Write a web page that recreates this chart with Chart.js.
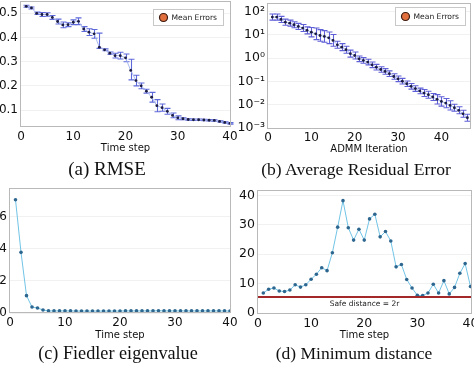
<!DOCTYPE html>
<html><head><meta charset="utf-8">
<script src="https://cdn.jsdelivr.net/npm/chart.js@4.4.0/dist/chart.umd.min.js"></script>
<style>
html,body{margin:0;padding:0;background:#fff;width:474px;height:372px;overflow:hidden;position:relative}
canvas{position:absolute}
.cap{position:absolute;font-family:"Liberation Serif","Times New Roman",serif;font-size:17.8px;color:#111;white-space:nowrap;transform:translate(-50%,-50%)}
</style></head><body>
<canvas id="cA"></canvas>
<canvas id="cB"></canvas>
<canvas id="cC"></canvas>
<canvas id="cD"></canvas>
<div class="cap" style="left:107px;top:169px;font-size:19px">(a) RMSE</div>
<div class="cap" style="left:356px;top:169px;font-size:17.6px">(b) Average Residual Error</div>
<div class="cap" style="left:118px;top:353px;font-size:18.2px">(c) Fiedler eigenvalue</div>
<div class="cap" style="left:354px;top:353px;font-size:17.5px">(d) Minimum distance</div>
<script>
// ---------- data ----------
const rmseSteps = [1,2,3,4,5,6,7,8,9,10,11,12,13,14,15,16,17,18,19,20,21,22,23,24,25,26,27,28,29,30,31,32,33,34,35,36,37,38,39,40];
const rmseMean = [0.529,0.522,0.500,0.495,0.495,0.483,0.466,0.452,0.453,0.463,0.467,0.435,0.422,0.415,0.360,0.349,0.335,0.325,0.325,0.316,0.264,0.222,0.200,0.178,0.153,0.118,0.110,0.095,0.078,0.068,0.064,0.061,0.060,0.060,0.059,0.058,0.057,0.053,0.049,0.045];
const rmseLow  = [0.525,0.518,0.495,0.487,0.488,0.475,0.456,0.440,0.445,0.453,0.453,0.425,0.408,0.397,0.355,0.345,0.330,0.315,0.311,0.300,0.225,0.200,0.188,0.170,0.133,0.093,0.095,0.083,0.068,0.060,0.060,0.058,0.057,0.057,0.056,0.055,0.054,0.050,0.046,0.042];
const rmseHigh = [0.533,0.526,0.505,0.503,0.502,0.491,0.476,0.464,0.461,0.473,0.481,0.445,0.436,0.433,0.418,0.353,0.340,0.335,0.339,0.332,0.310,0.244,0.212,0.186,0.173,0.143,0.125,0.107,0.088,0.076,0.068,0.064,0.063,0.063,0.062,0.061,0.060,0.056,0.052,0.048];

const admmIter = [1,2,3,4,5,6,7,8,9,10,11,12,13,14,15,16,17,18,19,20,21,22,23,24,25,26,27,28,29,30,31,32,33,34,35,36,37,38,39,40,41,42,43,44,45,46];
const residualMean = [57.5,57.5,45.7,34.7,31.6,26.9,22.9,19.5,15.5,12.9,11.0,9.33,8.51,7.41,5.75,3.72,2.95,2.29,1.55,1.29,0.933,0.794,0.676,0.513,0.407,0.324,0.269,0.214,0.162,0.129,0.102,0.0794,0.0617,0.0490,0.0389,0.0316,0.0269,0.0214,0.0170,0.0138,0.0117,0.00933,0.00741,0.00575,0.00407,0.00275];
const residualErrDecades = [0.13,0.13,0.13,0.13,0.13,0.13,0.13,0.15,0.15,0.2,0.25,0.25,0.25,0.25,0.25,0.15,0.15,0.15,0.15,0.15,0.12,0.12,0.12,0.12,0.12,0.12,0.12,0.12,0.12,0.12,0.12,0.12,0.12,0.12,0.12,0.15,0.15,0.15,0.2,0.2,0.2,0.2,0.15,0.15,0.15,0.15];

const fiedlerSteps = [1,2,3,4,5,6,7,8,9,10,11,12,13,14,15,16,17,18,19,20,21,22,23,24,25,26,27,28,29,30,31,32,33,34,35,36,37,38,39,40];
const fiedlerValues = [7.04,3.77,1.08,0.37,0.31,0.19,0.13,0.13,0.13,0.13,0.13,0.12,0.12,0.12,0.12,0.12,0.12,0.12,0.12,0.12,0.13,0.13,0.13,0.13,0.13,0.13,0.14,0.13,0.13,0.13,0.13,0.13,0.13,0.13,0.13,0.13,0.13,0.13,0.13,0.12];

const distSteps = [1,2,3,4,5,6,7,8,9,10,11,12,13,14,15,16,17,18,19,20,21,22,23,24,25,26,27,28,29,30,31,32,33,34,35,36,37,38,39,40];
const minDistance = [6.8,8.1,8.5,7.5,7.3,7.8,9.6,8.8,9.6,11.5,13.2,15.4,14.4,20.5,29.2,38.2,29.0,24.8,28.5,24.8,32.0,33.6,25.9,27.7,24.5,15.7,16.5,11.4,8.5,6.0,5.9,6.8,9.8,6.8,11.0,6.5,8.7,13.5,16.8,9.0];
const safeDistance = 5.4;
const safeLabel = 'Safe distance = 2r';

const xTicks40 = [0,10,20,30,40];
const xTickLabels40 = ['0','10','20','30','40'];
const rmseYTicks = [0.1,0.2,0.3,0.4,0.5];
const rmseYLabels = ['0.1','0.2','0.3','0.4','0.5'];
const residualYTicks = [0.001,0.01,0.1,1,10,100];
const residualYLabels = ['10\u207B\u00B3','10\u207B\u00B2','10\u207B\u00B9','10\u2070','10\u00B9','10\u00B2'];
const fiedlerYTicks = [0,2,4,6];
const fiedlerYLabels = ['0','2','4','6'];
const distYTicks = [0,10,20,30,40];
const distYLabels = ['0','10','20','30','40'];
const legendLabel = 'Mean Errors';

// ---------- plugins ----------
const framePlugin = {
  id:'frame',
  afterDatasetsDraw(chart){
    const a = chart.chartArea, c = chart.ctx;
    c.save(); c.strokeStyle = '#b9b9b9'; c.lineWidth = 1;
    c.strokeRect(Math.round(a.left)-0.5, Math.round(a.top)+0.5, Math.round(a.right-a.left)+1, Math.round(a.bottom-a.top)-1);
    c.restore();
  }
};
const errorBarPlugin = {
  id:'errbars',
  beforeDatasetsDraw(chart, args, opts){
    if(!opts || !opts.low) return;
    const meta = chart.getDatasetMeta(0), ys = chart.scales.y, c = chart.ctx;
    c.save(); c.strokeStyle = opts.color; c.lineWidth = 1.1;
    meta.data.forEach((pt,i)=>{
      const y1 = ys.getPixelForValue(opts.low[i]), y2 = ys.getPixelForValue(opts.high[i]);
      const x = Math.round(pt.x)+0.5, w = opts.cap;
      c.beginPath();
      c.moveTo(x,y1); c.lineTo(x,y2);
      c.moveTo(x-w,y1); c.lineTo(x+w,y1);
      c.moveTo(x-w,y2); c.lineTo(x+w,y2);
      c.stroke();
    });
    c.restore();
  }
};
const boxLegendPlugin = {
  id:'boxlegend',
  afterDraw(chart, args, opts){
    if(!opts || !opts.text) return;
    const a = chart.chartArea, c = chart.ctx;
    const w = opts.w, h = opts.h;
    const x = Math.round(a.right - opts.right - w)+0.5, y = Math.round(a.top + opts.top)+0.5;
    c.save();
    c.fillStyle = '#fff'; c.strokeStyle = '#c8c8c8'; c.lineWidth = 1;
    c.fillRect(x,y,w,h); c.strokeRect(x,y,w,h);
    c.beginPath(); c.arc(x+10, y+h/2, 4, 0, Math.PI*2);
    c.fillStyle = '#e2703f'; c.fill(); c.strokeStyle = '#3a1a10'; c.lineWidth = 1.2; c.stroke();
    c.fillStyle = '#222'; c.font = '7.6px "DejaVu Sans"'; c.textBaseline = 'middle'; c.textAlign = 'left';
    c.fillText(opts.text, x+18, y+h/2+0.5);
    c.restore();
  }
};
const safeLabelPlugin = {
  id:'safelabel',
  afterDatasetsDraw(chart, args, opts){
    if(!opts || !opts.text) return;
    const a = chart.chartArea, c = chart.ctx;
    const y = chart.scales.y.getPixelForValue(opts.value);
    c.save(); c.fillStyle = '#222'; c.font = '7.5px "DejaVu Sans"'; c.textAlign = 'center'; c.textBaseline = 'middle';
    c.fillText(opts.text, (a.left+a.right)/2, y + 7);
    c.restore();
  }
};
Chart.register(framePlugin, errorBarPlugin, boxLegendPlugin, safeLabelPlugin);

// ---------- builder ----------
const PAD = {left:0,right:20,top:10,bottom:4}, YW = 40;
function makeChart(id, target, cfg){
  const cv = document.getElementById(id);
  const tw = target.right - target.left, th = target.bottom - target.top;
  const W = tw + YW + PAD.left + PAD.right, H = th + cfg.xH + PAD.top + PAD.bottom;
  cv.width = W; cv.height = H; cv.style.width = W+'px'; cv.style.height = H+'px';
  const chart = new Chart(cv, {
    type:'line',
    data:{datasets:cfg.datasets},
    options:{
      responsive:false, animation:false, events:[],
      layout:{padding:PAD},
      plugins:Object.assign({legend:{display:false},tooltip:{enabled:false}}, cfg.plugins||{}),
      scales:{
        x:{type:'linear', min:cfg.xMin, max:cfg.xMax,
          afterBuildTicks:s=>{s.ticks = cfg.xTicks.map(v=>({value:v}));},
          afterFit:s=>{s.height = cfg.xH;},
          grid:{display:false, drawTicks:false}, border:{display:false},
          ticks:{font:{family:'DejaVu Sans',size:cfg.tickSize}, color:'#111', padding:3, maxRotation:0, autoSkip:false,
                 callback:(v,i)=>cfg.xLabels[i]},
          title:{display:true, text:cfg.xTitle, font:{family:'DejaVu Sans',size:10}, color:'#111', padding:0}},
        y:{type:cfg.yType, min:cfg.yMin, max:cfg.yMax,
          afterBuildTicks:s=>{s.ticks = cfg.yTicks.map(v=>({value:v}));},
          afterFit:s=>{s.width = YW;},
          grid:{color:'#f1f1f1', drawTicks:false}, border:{display:false},
          ticks:{font:{family:'DejaVu Sans',size:cfg.yTickSize||cfg.tickSize}, color:'#111', padding:3, autoSkip:false,
                 callback:(v,i)=>cfg.yLabels[i]}}
      }
    }
  });
  cv.style.left = (target.left - chart.chartArea.left) + 'px';
  cv.style.top = (target.top - chart.chartArea.top) + 'px';
  return chart;
}

// (a) RMSE
makeChart('cA', {left:21,top:1,right:230,bottom:127}, {
  xMin:0, xMax:40, xTicks:xTicks40, xLabels:xTickLabels40, xTitle:'Time step', xH:27, tickSize:12,
  yType:'linear', yMin:0.03, yMax:0.55, yTicks:rmseYTicks, yLabels:rmseYLabels,
  datasets:[{data:rmseSteps.map((x,i)=>({x:x,y:rmseMean[i]})), borderColor:'#a7b8ee', borderWidth:1,
    pointRadius:1.4, pointBackgroundColor:'#1c1c40', pointBorderWidth:0, tension:0}],
  plugins:{errbars:{low:rmseLow, high:rmseHigh, color:'#5f6ada', cap:3},
           boxlegend:{text:legendLabel, w:70, h:16, right:7, top:8}}
});

// (b) Average residual error
makeChart('cB', {left:268,top:2,right:470,bottom:128}, {
  xMin:0, xMax:46.6, xTicks:xTicks40, xLabels:xTickLabels40, xTitle:'ADMM Iteration', xH:27, tickSize:12, yTickSize:12.5,
  yType:'logarithmic', yMin:0.001, yMax:243, yTicks:residualYTicks, yLabels:residualYLabels,
  datasets:[{data:admmIter.map((x,i)=>({x:x,y:residualMean[i]})), borderColor:'#a7b8ee', borderWidth:1,
    pointRadius:1.4, pointBackgroundColor:'#1c1c40', pointBorderWidth:0, tension:0}],
  plugins:{errbars:{low:residualMean.map((m,i)=>m/Math.pow(10,residualErrDecades[i])),
                    high:residualMean.map((m,i)=>m*Math.pow(10,residualErrDecades[i])), color:'#5f5fd8', cap:3},
           boxlegend:{text:legendLabel, w:70, h:18, right:5, top:4}}
});

// (c) Fiedler eigenvalue
makeChart('cC', {left:10,top:188,right:230,bottom:313}, {
  xMin:0, xMax:40, xTicks:xTicks40, xLabels:xTickLabels40, xTitle:'Time step', xH:28, tickSize:12,
  yType:'linear', yMin:0, yMax:7.76, yTicks:fiedlerYTicks, yLabels:fiedlerYLabels,
  datasets:[{data:fiedlerSteps.map((x,i)=>({x:x,y:fiedlerValues[i]})), borderColor:'#72c4e6', borderWidth:1,
    pointRadius:1.8, pointBackgroundColor:'#2d6790', pointBorderWidth:0, tension:0}]
});

// (d) Minimum distance
const distXMax = 40.1;
makeChart('cD', {left:258,top:189,right:471,bottom:313}, {
  xMin:0, xMax:distXMax, xTicks:xTicks40, xLabels:xTickLabels40, xTitle:'Time step', xH:28, tickSize:12.5,
  yType:'linear', yMin:0, yMax:42, yTicks:distYTicks, yLabels:distYLabels,
  datasets:[
    {data:[{x:0,y:safeDistance},{x:distXMax,y:safeDistance}], borderColor:'#a3282a', borderWidth:2, pointRadius:0},
    {data:distSteps.map((x,i)=>({x:x,y:minDistance[i]})), borderColor:'#72c4e6', borderWidth:1,
     pointRadius:1.8, pointBackgroundColor:'#2d6790', pointBorderWidth:0, tension:0}],
  plugins:{safelabel:{text:safeLabel, value:safeDistance}}
});
</script>
</body></html>
